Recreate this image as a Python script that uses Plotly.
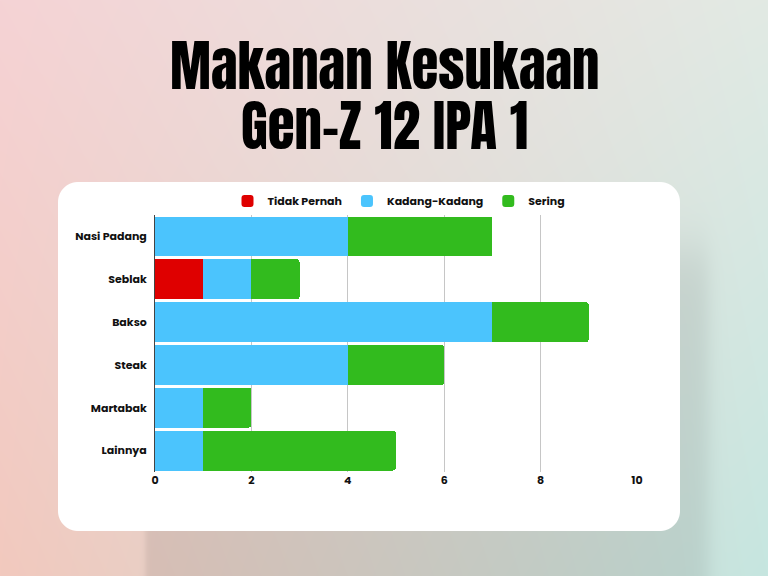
import base64, struct, zlib
import numpy as np
import plotly.graph_objects as go

# ---------------- data ----------------
categories = ["Nasi Padang", "Seblak", "Bakso", "Steak", "Martabak", "Lainnya"]
tidak_pernah = [0, 1, 0, 0, 0, 0]
kadang_kadang = [4, 1, 7, 4, 1, 1]
sering = [3, 1, 2, 2, 1, 4]
series_names = ["Tidak Pernah", "Kadang-Kadang", "Sering"]
x_ticks = [0, 2, 4, 6, 8, 10]
title_lines = ["Makanan Kesukaan", "Gen-Z 12 IPA 1"]

# ---------------- page geometry ----------------
W, H = 768, 576
L, R, T, B = 155, 131, 215, 104
PW, PH = W - L - R, H - T - B


def px_x(px):
    return (px - L) / PW


def px_y(py):
    return (H - B - py) / PH


# ---------------- background picture (gradient, shadow, card) ----------------
def make_background():
    yy, xx = np.mgrid[0:H, 0:W].astype(float)
    u = xx / (W - 1)
    v = yy / (H - 1)
    tl = np.array([245, 211, 213.0])
    tr = np.array([226, 234, 228.0])
    bl = np.array([242, 201, 190.0])
    br = np.array([198, 230, 224.0])
    img = ((1 - u)[..., None] * (1 - v)[..., None] * tl + u[..., None] * (1 - v)[..., None] * tr
           + (1 - u)[..., None] * v[..., None] * bl + u[..., None] * v[..., None] * br)

    def sig(z):
        return 0.5 * (1 + np.tanh(z))

    shadow = sig((xx - 145) / 3) * sig((708 - xx) / 10) * sig((yy - 250) / 30)
    img = img * (1 - 0.08 * shadow)[..., None]

    # white rounded card
    x0, x1, y0, y1, r = 58, 680, 182, 531, 20
    cx = np.clip(xx + 0.5, x0 + r, x1 - r)
    cy = np.clip(yy + 0.5, y0 + r, y1 - r)
    d = np.sqrt((xx + 0.5 - cx) ** 2 + (yy + 0.5 - cy) ** 2) - r
    cov = np.clip(0.5 - d, 0, 1)
    img = img * (1 - cov[..., None]) + 255 * cov[..., None]

    data = np.clip(img, 0, 255).astype(np.uint8)
    raw = b"".join(b"\x00" + data[row].tobytes() for row in range(H))

    def chunk(tag, payload):
        c = struct.pack(">I", len(payload)) + tag + payload
        return c + struct.pack(">I", zlib.crc32(tag + payload) & 0xFFFFFFFF)

    png = (b"\x89PNG\r\n\x1a\n"
           + chunk(b"IHDR", struct.pack(">IIBBBBB", W, H, 8, 2, 0, 0, 0))
           + chunk(b"IDAT", zlib.compress(raw, 9))
           + chunk(b"IEND", b""))
    return "data:image/png;base64," + base64.b64encode(png).decode()


colors = ["#df0000", "#4bc4fd", "#32bb1e"]
values = [tidak_pernah, kadang_kadang, sering]

fig = go.Figure()
for name, vals, col in zip(series_names, values, colors):
    fig.add_trace(go.Bar(
        y=categories, x=vals, name=name, orientation="h",
        marker=dict(color=col, line=dict(width=0)),
        hoverinfo="x+y+name",
    ))

tick_font = dict(family="Poppins, Inter, Lato, sans-serif", size=11, color="#111111", weight=700)
legend_font = dict(family="Poppins, Inter, Lato, sans-serif", size=11, color="#111111", weight=700)

fig.update_layout(
    width=W, height=H,
    margin=dict(l=L, r=R, t=T, b=B, pad=0),
    barmode="stack", bargap=0.07, barcornerradius=3,
    paper_bgcolor="#ffffff", plot_bgcolor="rgba(0,0,0,0)",
    showlegend=True,
    legend=dict(orientation="h", x=px_x(399), xanchor="center", y=px_y(201), yanchor="middle",
                font=legend_font, bgcolor="rgba(0,0,0,0)", traceorder="normal",
                itemwidth=30),
    xaxis=dict(range=[0, 10], tickvals=x_ticks, ticktext=[str(t) for t in x_ticks],
               showgrid=True, gridcolor="#c6c6c6", gridwidth=1, zeroline=False,
               showline=False, ticks="", tickfont=tick_font, fixedrange=True),
    yaxis=dict(categoryorder="array", categoryarray=categories, autorange="reversed",
               showgrid=False, showline=True, linecolor="#444444", linewidth=1,
               ticks="", tickfont=tick_font, ticklabelstandoff=5, fixedrange=True),
    images=[dict(source=make_background(), xref="paper", yref="paper",
                 x=px_x(0), y=px_y(0), sizex=W / PW, sizey=H / PH,
                 xanchor="left", yanchor="top", sizing="stretch", layer="below")],
)

title_font = dict(family="Anton, 'Bebas Neue', 'Liberation Sans Narrow', 'DejaVu Sans Condensed', sans-serif",
                  size=55, color="#000000", weight=400)
for text, cy in zip(title_lines, [65, 126]):
    fig.add_annotation(text=text, xref="paper", yref="paper", x=px_x(384), y=px_y(cy),
                       xanchor="center", yanchor="middle", showarrow=False, font=title_font)

fig.write_html("out.html", config={"displayModeBar": False},
               post_script="document.body.style.margin='0';")
